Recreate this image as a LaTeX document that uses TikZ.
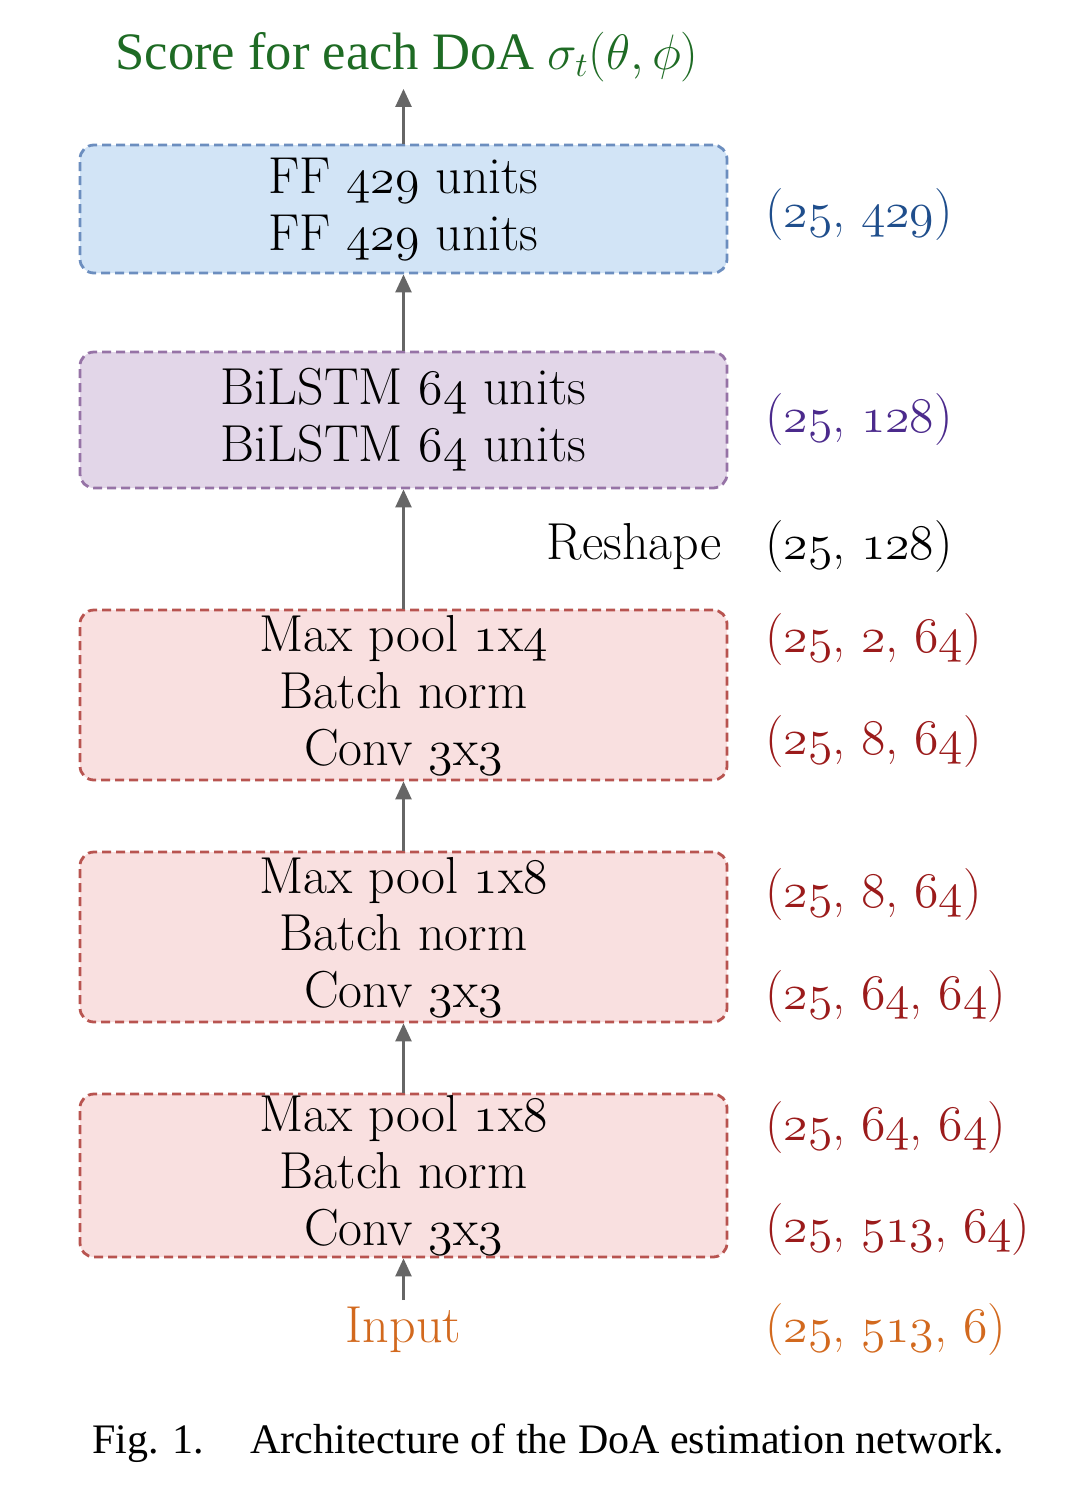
\documentclass[tikz,border=0pt]{standalone}
\usepackage{fontspec}
\newfontfamily\timesfont{Liberation Serif}
\usetikzlibrary{arrows.meta,positioning}
\usepackage{amsmath}
\usepackage{xcolor}

\definecolor{ffFill}{HTML}{D2E4F6}
\definecolor{ffDraw}{HTML}{6C8EBF}
\definecolor{ffText}{HTML}{1F4E8C}
\definecolor{lstmFill}{HTML}{E2D6E8}
\definecolor{lstmDraw}{HTML}{9673A6}
\definecolor{lstmText}{HTML}{4B2A8C}
\definecolor{convFill}{HTML}{F9E0E0}
\definecolor{convDraw}{HTML}{B85450}
\definecolor{convText}{HTML}{9B1B1B}
\definecolor{inText}{HTML}{D2691E}
\definecolor{scoreText}{HTML}{1E6B24}
\definecolor{arrowGray}{HTML}{666666}

% old style figures
\newcommand{\osn}[1]{{\fontencoding{OML}\fontfamily{cmm}\fontseries{m}\fontshape{it}\selectfont #1}}

\begin{document}
\begin{tikzpicture}[x=0.5pt, y=-0.5pt,
    layer/.style={rectangle, draw, dash pattern=on 4.5pt off 2.5pt, line width=1.4pt,
        rounded corners=7pt, minimum width=323.5pt, align=center, inner sep=0pt,
        font=\fontsize{26}{28.5}\selectfont},
    shape label/.style={anchor=west, inner sep=0pt, font=\fontsize{26}{28.5}\selectfont},
    arrow/.style={-{Triangle[length=9pt, width=8pt]}, line width=1.2pt, arrowGray}
]
    \useasboundingbox (0,0) rectangle (1080,1500);

    % output
    \node[font=\timesfont\fontsize{26.3}{28}\selectfont, text=scoreText] (score) at (407,57)
        {Score for each DoA $\sigma_t(\theta,\phi)$};

    % layers
    \node[layer, fill=ffFill, draw=ffDraw, minimum height=64pt] (ff) at (403.5,209)
        {FF \osn{429} units\\FF \osn{429} units};

    \node[layer, fill=lstmFill, draw=lstmDraw, minimum height=68pt] (lstm) at (403.5,420)
        {BiLSTM \osn{64} units\\BiLSTM \osn{64} units};

    \node[anchor=east, inner sep=0pt, font=\fontsize{26}{28.5}\selectfont] (reshape) at (722,547) {Reshape};

    \node[layer, fill=convFill, draw=convDraw, minimum height=85pt] (convA) at (403.5,695)
        {Max pool \osn{1}x\osn{4}\\Batch norm\\Conv \osn{3}x\osn{3}};

    \node[layer, fill=convFill, draw=convDraw, minimum height=85pt] (convB) at (403.5,937)
        {Max pool \osn{1}x\osn{8}\\Batch norm\\Conv \osn{3}x\osn{3}};

    \node[layer, fill=convFill, draw=convDraw, minimum height=81.5pt] (convC) at (403.5,1175.5)
        {Max pool \osn{1}x\osn{8}\\Batch norm\\Conv \osn{3}x\osn{3}};

    % input
    \node[font=\fontsize{26}{28.5}\selectfont, text=inText] (input) at (403.5,1330) {Input};

    % shapes
    \node[shape label, text=ffText] (sFF) at (765,215) {(\osn{25}, \osn{429})};
    \node[shape label, text=lstmText] (sLSTM) at (765,420) {(\osn{25}, \osn{128})};
    \node[shape label] (sReshape) at (765,547) {(\osn{25}, \osn{128})};
    \node[shape label, text=convText] (sA1) at (765,640) {(\osn{25}, \osn{2}, \osn{64})};
    \node[shape label, text=convText] (sA2) at (765,742) {(\osn{25}, \osn{8}, \osn{64})};
    \node[shape label, text=convText] (sB1) at (765,895) {(\osn{25}, \osn{8}, \osn{64})};
    \node[shape label, text=convText] (sB2) at (765,997) {(\osn{25}, \osn{64}, \osn{64})};
    \node[shape label, text=convText] (sC1) at (765,1128) {(\osn{25}, \osn{64}, \osn{64})};
    \node[shape label, text=convText] (sC2) at (765,1230) {(\osn{25}, \osn{513}, \osn{64})};
    \node[shape label, text=inText] (sIn) at (765,1330) {(\osn{25}, \osn{513}, \osn{6})};

    % caption
    \node[font=\timesfont\fontsize{21}{23}\selectfont] (caption) at (548,1443)
        {Fig. 1.\hspace{1.1em}Architecture of the DoA estimation network.};

    % arrows
    \draw[arrow] (input.north) -- (convC.south);
    \draw[arrow] (convC.north) -- (convB.south);
    \draw[arrow] (convB.north) -- (convA.south);
    \draw[arrow] (convA.north) -- (lstm.south);
    \draw[arrow] (lstm.north) -- (ff.south);
    \draw[arrow] (ff.north) -- (ff.north |- score.south);
\end{tikzpicture}
\end{document}
